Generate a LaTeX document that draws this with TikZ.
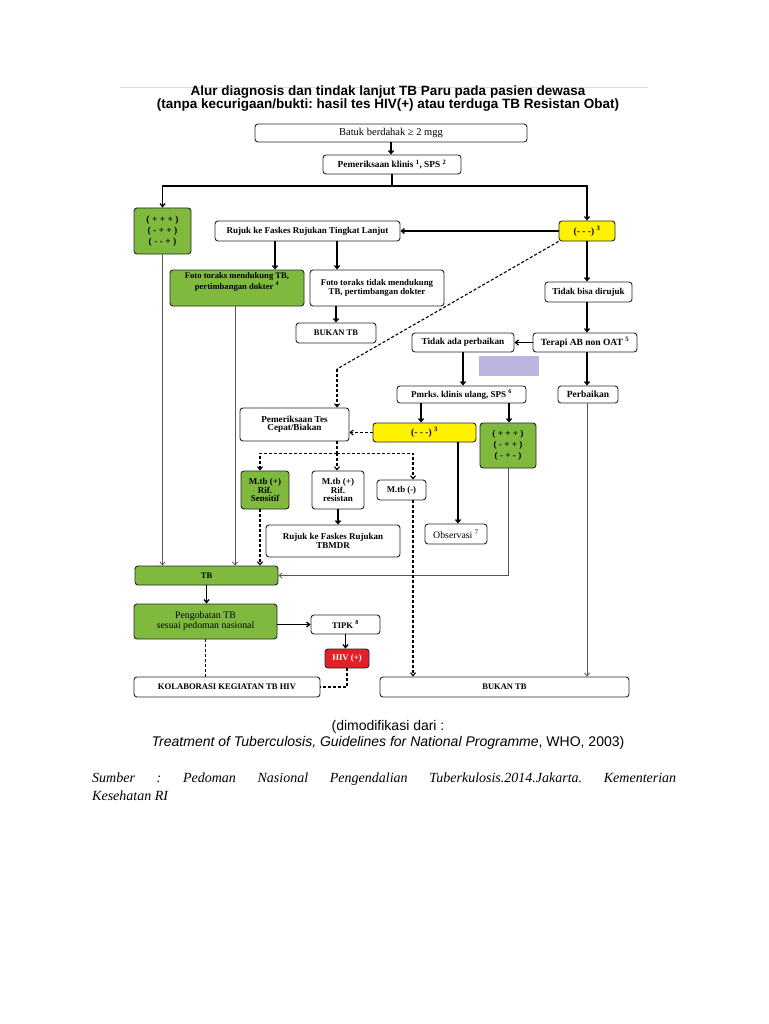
\documentclass[tikz,border=0pt]{standalone}
\usepackage{fontspec}
\setmainfont{Liberation Serif}
\newfontfamily\arialf{Liberation Sans}
\usetikzlibrary{arrows.meta}
\definecolor{gbox}{HTML}{7FBA3F}
\definecolor{ybox}{HTML}{FFF200}
\definecolor{rbox}{HTML}{E3202A}
\definecolor{lav}{HTML}{BAB6DE}
\definecolor{thin}{HTML}{555555}
\frenchspacing
\begin{document}
\begin{tikzpicture}[x=1pt,y=-1pt,
  box/.style={draw=black!85,line width=0.9pt,rounded corners=3pt,fill=white,inner sep=0pt,align=center,font=\bfseries\fontsize{9}{8.5}\selectfont},
  fb/.style={font=\bfseries\fontsize{#1}{8.5}\selectfont},
  fr/.style={font=\fontsize{#1}{8}\selectfont},
  gb/.style={box,fill=gbox},
  yb/.style={box,fill=ybox},
  rb/.style={box,fill=rbox,text=white},
  conn/.style={line width=1.3pt,-{Straight Barb[length=3pt,width=5pt]}},
  thinc/.style={line width=0.8pt,draw=thin,-{Straight Barb[length=3pt,width=5pt]}},
  dconn/.style={line width=1.1pt,dashed,dash pattern=on 3pt off 2pt,-{Straight Barb[length=3pt,width=5pt]}},
  dline/.style={line width=1.1pt,dashed,dash pattern=on 3pt off 2pt}]
\useasboundingbox (0,0) rectangle (768,1024);
\fill[white] (0,0) rectangle (768,1024);
% title
\draw[line width=1.5pt,black!15] (120,87.5) -- (648,87.5);
\node[font=\arialf\bfseries\fontsize{13.5}{13}\selectfont,align=center] (title) at (388,99)
 {Alur diagnosis dan tindak lanjut TB Paru pada pasien dewasa\\(tanpa kecurigaan/bukti: hasil tes HIV(+) atau terduga TB Resistan Obat)};
% nodes
\node[box,fr=10.5,minimum width=272pt,minimum height=18pt] (b1) at (391,133) {Batuk berdahak ≥ 2 mgg};
\node[box,fb=9.3,minimum width=138pt,minimum height=19pt] (b2) at (392,164.5) {Pemeriksaan klinis \textsuperscript{1}, SPS \textsuperscript{2}};
\node[gb,font=\bfseries\fontsize{9.5}{11}\selectfont,minimum width=57pt,minimum height=46pt] (g1) at (162.5,231) {( + + + )\\( - + + )\\( - - + )};
\node[box,fb=9,minimum width=185pt,minimum height=20pt] (rujuk) at (307.5,231) {Rujuk ke Faskes Rujukan Tingkat Lanjut};
\node[yb,fb=9.5,minimum width=56pt,minimum height=20pt] (y1) at (587,231) {(- - -) \textsuperscript{3}};
\node[gb,minimum width=134pt,minimum height=36pt] (g2) at (237,288) {};
\node[font=\bfseries\fontsize{8.6}{8.5}\selectfont,align=center,inner sep=0pt] (g2t) at (237,282) {Foto toraks mendukung TB,\\pertimbangan dokter \textsuperscript{4}};
\node[box,fb=8.8,minimum width=134pt,minimum height=36pt] (foto2) at (377,288) {Foto toraks tidak mendukung\\TB, pertimbangan dokter};
\node[box,fb=8.5,minimum width=80pt,minimum height=20pt] (bukan1) at (336,333) {BUKAN TB};
\node[box,fb=9,minimum width=87pt,minimum height=20pt] (tbd) at (588.5,292) {Tidak bisa dirujuk};
\node[box,fb=9.5,minimum width=104pt,minimum height=19pt] (terapi) at (585,342.5) {Terapi AB non OAT \textsuperscript{5}};
\node[box,fb=9.2,minimum width=102pt,minimum height=19pt] (tap) at (463,342.5) {Tidak ada perbaikan};
\fill[lav] (479,356) rectangle (539,376);
\node[box,fb=9,minimum width=129pt,minimum height=17pt] (pmrks) at (461.5,394.5) {Pmrks. klinis ulang, SPS \textsuperscript{6}};
\node[box,fb=9.5,minimum width=60pt,minimum height=17pt] (perb) at (588,394.5) {Perbaikan};
\node[yb,fb=9.5,minimum width=103pt,minimum height=19pt] (y2) at (424.5,432.5) {(- - -) \textsuperscript{3}};
\node[gb,font=\bfseries\fontsize{9.2}{11}\selectfont,minimum width=56pt,minimum height=45pt] (g3) at (508,445.5) {( + + + )\\( - + + )\\( - + - )};
\node[box,fb=9.2,minimum width=109pt,minimum height=33pt] (pem) at (294.5,424.5) {Pemeriksaan Tes\\Cepat/Biakan};
\node[gb,fb=9,minimum width=48pt,minimum height=38pt] (g4) at (265,490) {M.tb (+)\\Rif.\\Sensitif};
\node[box,fb=9,minimum width=52pt,minimum height=38pt] (res) at (338,490) {M.tb (+)\\Rif.\\resistan};
\node[box,fb=8.8,minimum width=49pt,minimum height=20pt] (mneg) at (401.5,490) {M.tb (-)};
\node[box,fb=9,minimum width=134pt,minimum height=32pt] (tbmdr) at (333,541) {Rujuk ke Faskes Rujukan\\TBMDR};
\node[box,fr=9.8,minimum width=62pt,minimum height=20pt] (obs) at (456,534) {Observasi \textsuperscript{7}};
\node[gb,fb=8.5,minimum width=143pt,minimum height=19pt] (tb) at (206.5,575.5) {TB};
\node[gb,fr=9.8,minimum width=143pt,minimum height=35pt] (peng) at (205.5,621.5) {Pengobatan TB\\sesuai pedoman nasional};
\node[box,fb=8.6,minimum width=69pt,minimum height=19pt] (tipk) at (345.5,624.5) {TIPK \textsuperscript{8}};
\node[rb,fb=8.7,minimum width=44pt,minimum height=19pt] (hiv) at (347,658.5) {HIV (+)};
\node[box,fb=8.6,minimum width=186pt,minimum height=20pt] (kol) at (227,687) {KOLABORASI KEGIATAN TB HIV};
\node[box,fb=8.5,minimum width=249pt,minimum height=20pt] (bukan2) at (504.5,687) {BUKAN TB};
% connectors
\draw[conn] (b1.south) -- (b1.south |- b2.north);
\draw[line width=1.3pt] (b2.south) -- ++(0,11.5) coordinate (j1);
\draw[conn] (j1) -| (g1.north);
\draw[conn] (j1) -| (y1.north);
\draw[conn] (y1.west) -- (rujuk.east);
\draw[conn] ([xshift=-32.5pt]rujuk.south) -- ([xshift=-32.5pt]rujuk.south |- g2.north);
\draw[conn] ([xshift=29.5pt]rujuk.south) -- ([xshift=29.5pt]rujuk.south |- foto2.north);
\draw[conn] (bukan1.north |- foto2.south) -- (bukan1.north);
\draw[conn] (y1.south) -- (y1.south |- tbd.north);
\draw[conn] (y1.south |- tbd.south) -- (y1.south |- terapi.north);
\draw[conn] (terapi.west) -- (tap.east);
\draw[conn] (tap.south) -- (tap.south |- pmrks.north);
\draw[conn] (y1.south |- terapi.south) -- (y1.south |- perb.north);
\draw[thinc] (y1.south |- perb.south) -- (y1.south |- bukan2.north);
\draw[conn] ([xshift=-40.5pt]pmrks.south) -- ([xshift=-40.5pt]pmrks.south |- y2.north);
\draw[conn] ([xshift=47.5pt]pmrks.south) -- ([xshift=47.5pt]pmrks.south |- g3.north);
\draw[dconn] (y2.west) -- (y2.west -| pem.east);
\coordinate (dj) at (337,369);
\draw[dline] (y1.south west) -- (dj);
\draw[dconn] (dj) -- (dj |- pem.north);
\draw[dline] (dj |- pem.south) -- ++(0,12) coordinate (dh);
\draw[dconn] (dh) -| ([xshift=-5pt]g4.north);
\draw[dconn] (dh) -| ([xshift=11.5pt]mneg.north);
\draw[dconn] (dh) -- (dh |- res.north);
\draw[conn] (res.south) -- (res.south |- tbmdr.north);
\draw[conn] ([xshift=33.5pt]y2.south) -- ([xshift=33.5pt]y2.south |- obs.north);
\draw[thinc] (g3.south) |- (tb.east);
\draw[dconn] ([xshift=-5pt]g4.south) -- ([xshift=-5pt]g4.south |- tb.north);
\draw[thinc] (g1.south) -- (g1.south |- tb.north);
\draw[thinc] ([xshift=-2pt]g2.south) -- ([xshift=-2pt]g2.south |- tb.north);
\draw[dconn] ([xshift=11.5pt]mneg.south) -- ([xshift=11.5pt]mneg.south |- bukan2.north);
\draw[conn] (tb.south) -- (tb.south |- peng.north);
\draw[conn] (tipk.west -| peng.east) -- (tipk.west);
\draw[conn] (tipk.south) -- (tipk.south |- hiv.north);
\draw[dline] (hiv.south) |- (kol.east);
\draw[dline] (peng.south) -- (peng.south |- kol.north);
% captions
\node[font=\arialf\fontsize{14}{16}\selectfont,align=center] (cap) at (388,735)
 {(dimodifikasi dari :\\\textit{Treatment of Tuberculosis, Guidelines for National Programme}, WHO, 2003)};
\node[font=\itshape\fontsize{14}{18}\selectfont,text width=584pt,align=justify,inner sep=0pt,anchor=north west] (src) at (92,773)
 {Sumber : Pedoman Nasional Pengendalian Tuberkulosis.2014.Jakarta. Kementerian\linebreak Kesehatan RI};
\end{tikzpicture}
\end{document}
